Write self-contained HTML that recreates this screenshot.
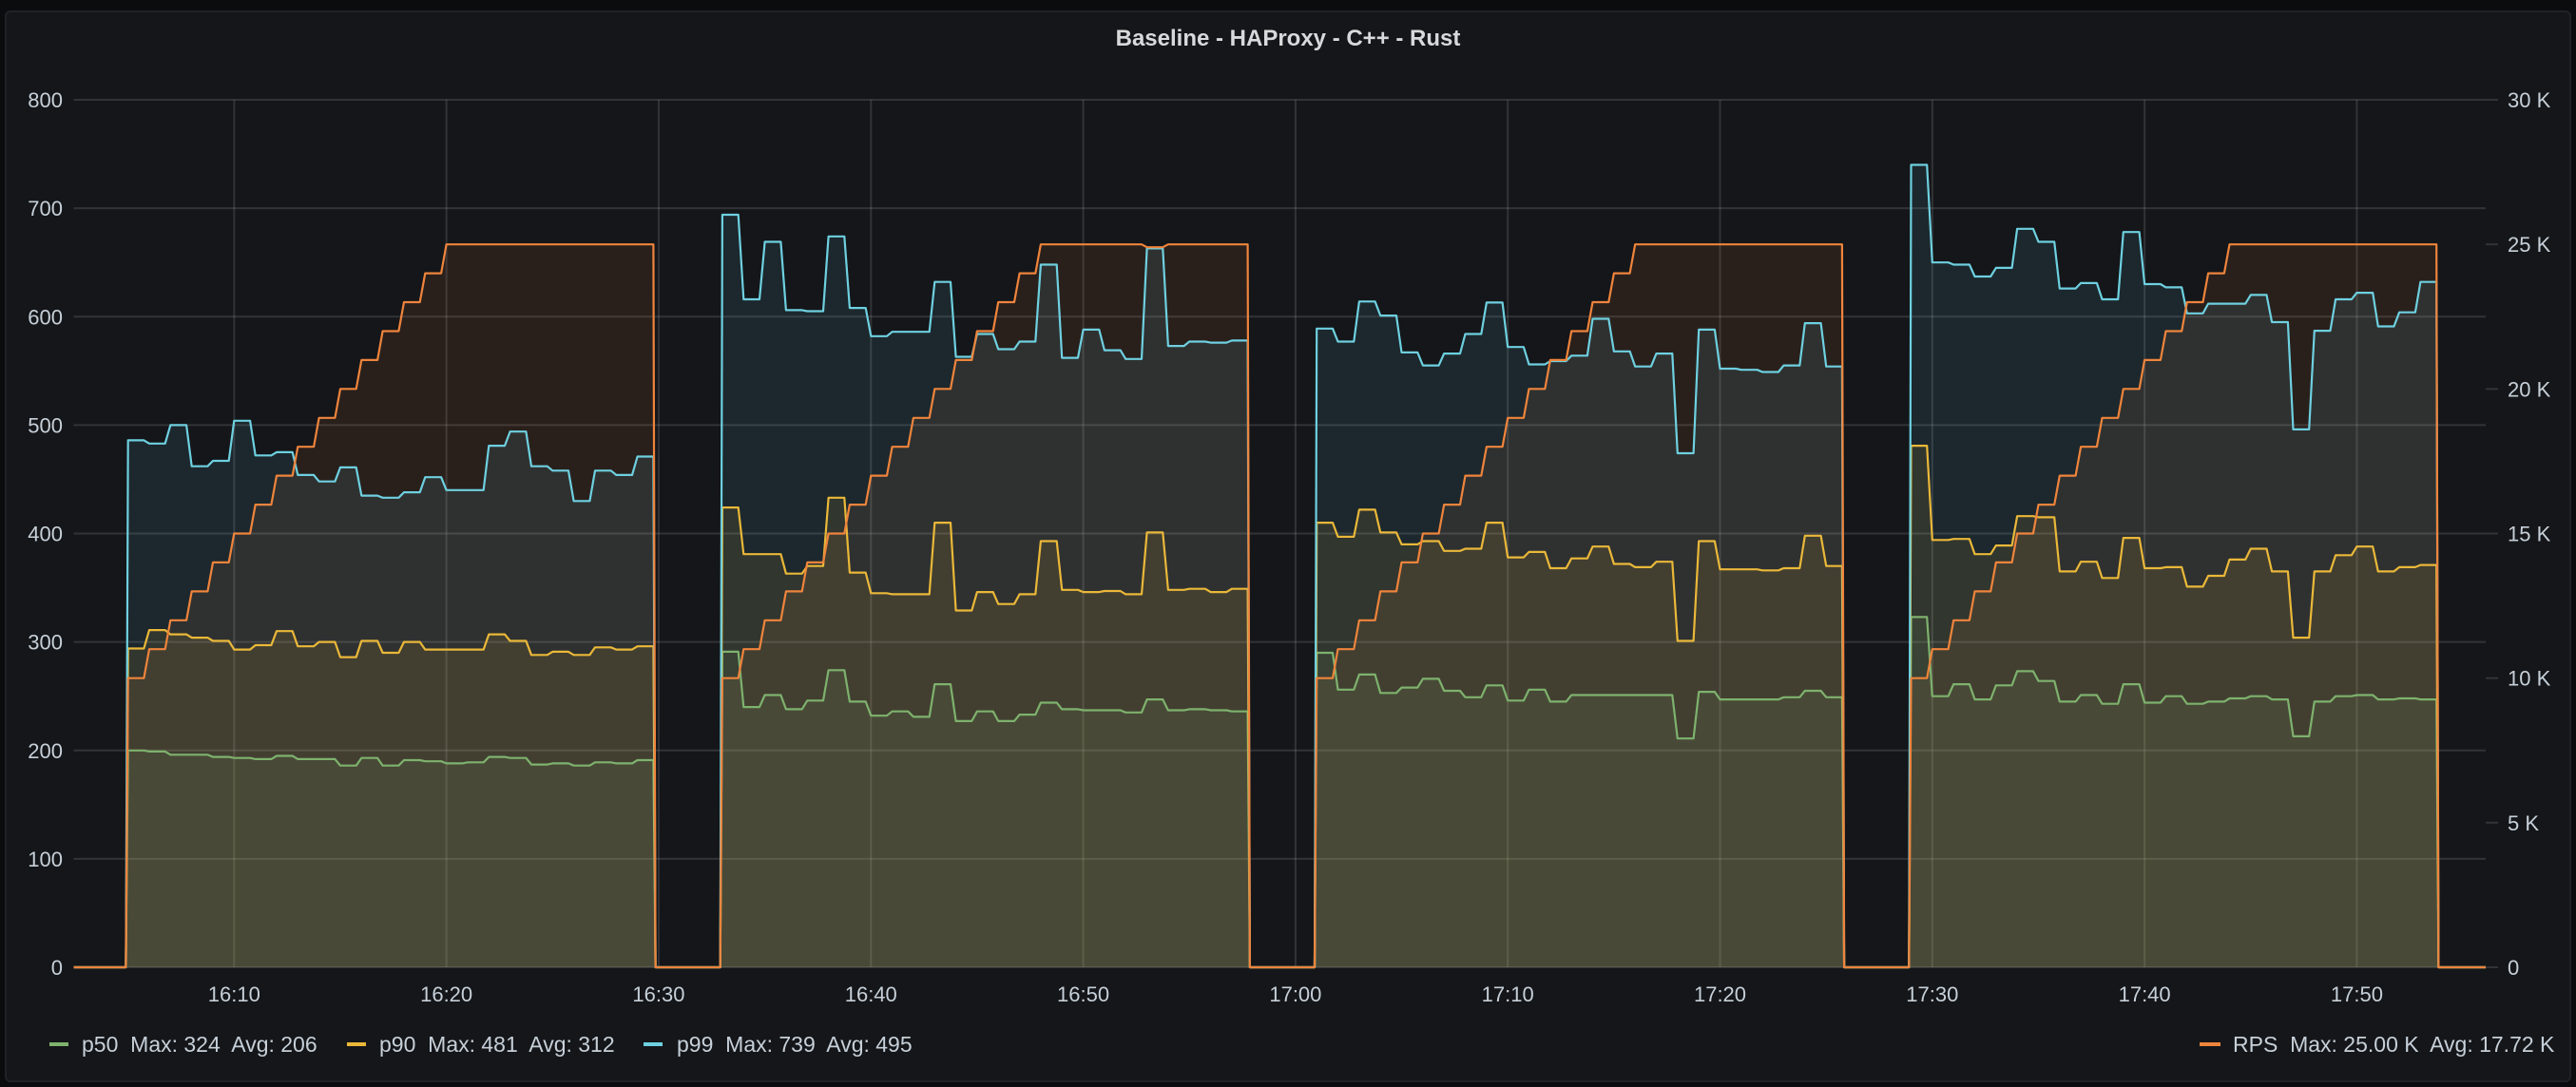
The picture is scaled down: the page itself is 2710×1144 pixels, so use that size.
<!DOCTYPE html>
<html><head><meta charset="utf-8"><style>
html,body{margin:0;padding:0;background:#0b0c0e;}
body{width:2710px;height:1144px;overflow:hidden;font-family:"Liberation Sans",sans-serif;}
svg{display:block}
.leg text{white-space:pre}
</style></head><body>
<svg id="chart" width="2710" height="1144" xmlns="http://www.w3.org/2000/svg">
<rect x="6" y="12" width="2698" height="1126" rx="5" fill="#141619" stroke="#202226" stroke-width="2"/>
<text x="1355" y="48" text-anchor="middle" font-size="24" font-weight="bold" fill="#d8d9da">Baseline - HAProxy - C++ - Rust</text>
<g id="grid"></g>
<g id="fills"></g>
<g id="lines"></g>
<g id="axes"></g>
<g class="leg" font-size="23" fill="#c7d0d9" xml:space="preserve">
 <g><rect x="52" y="1097" width="20" height="4" fill="#7eb26d"/><text x="86" y="1107">p50  Max: 324  Avg: 206</text></g>
 <g><rect x="365" y="1097" width="20" height="4" fill="#eab839"/><text x="399" y="1107">p90  Max: 481  Avg: 312</text></g>
 <g><rect x="677" y="1097" width="20" height="4" fill="#6ed0e0"/><text x="712" y="1107">p99  Max: 739  Avg: 495</text></g>
 <g><rect x="2314" y="1097" width="22" height="4" fill="#ef843c"/><text x="2349" y="1107">RPS  Max: 25.00 K  Avg: 17.72 K</text></g>
</g>
</svg>
<script>
const blockStart = [5.0, 33.0, 61.0, 89.0];
const p50 = [
 [200,199,196,196,194,193,192,195,192,192,186,193,186,191,190,188,189,194,193,187,188,186,189,188,191],
 [291,240,251,238,246,274,245,232,236,231,261,227,236,227,233,244,238,237,237,235,247,237,238,237,236],
 [290,256,270,253,258,266,255,249,260,246,256,245,251,251,251,251,251,211,254,247,247,247,249,255,249],
 [323,250,261,247,260,273,264,245,251,243,261,244,250,243,245,248,250,247,213,245,250,251,247,248,247]];
const p90 = [
 [294,311,307,304,301,293,297,310,296,300,286,301,290,300,293,293,293,307,301,288,291,288,295,293,296],
 [424,381,381,363,370,433,364,345,344,344,410,329,346,335,344,393,348,346,347,344,401,348,349,346,349],
 [410,397,422,401,390,393,384,386,410,378,383,368,377,388,372,369,374,301,393,367,367,366,368,398,370],
 [481,394,395,381,389,416,415,365,374,359,396,368,369,351,361,376,386,365,304,365,380,388,365,369,371]];
const p99 = [
 [486,483,500,462,467,504,472,475,454,448,461,435,433,438,452,440,440,481,494,462,458,430,458,454,471],
 [694,616,669,606,605,674,608,582,586,586,632,563,584,570,577,648,562,588,569,561,663,573,577,576,578],
 [589,577,614,601,567,555,566,584,613,572,556,559,564,598,568,554,566,474,588,552,551,549,555,594,554],
 [740,650,648,637,645,681,669,626,631,616,678,630,627,603,612,612,620,595,496,587,616,622,591,604,632]];
const rps = [
 [10,11,12,13,14,15,16,17,18,19,20,21,22,23,24,25,25,25,25,25,25,25,25,25,25],
 [10,11,12,13,14,15,16,17,18,19,20,21,22,23,24,25,25,25,25,25,24.9,25,25,25,25],
 [10,11,12,13,14,15,16,17,18,19,20,21,22,23,24,25,25,25,25,25,25,25,25,25,25],
 [10,11,12,13,14,15,16,17,18,19,20,21,22,23,24,25,25,25,25,25,25,25,25,25,25]];
const leftTicks = [0,100,200,300,400,500,600,700,800];
const rightTicks = [0,5,10,15,20,25,30];
const rightTickLabels = ["0","5 K","10 K","15 K","20 K","25 K","30 K"];
const timeTicks = [10,20,30,40,50,60,70,80,90,100,110];
const timeTickLabels = ["16:10","16:20","16:30","16:40","16:50","17:00","17:10","17:20","17:30","17:40","17:50"];

const NS="http://www.w3.org/2000/svg";
const X0=77.5,X1=2615,Y0=1018,Y1=105,T0=2.44,T1=116.07;
const xs=t=>X0+(t-T0)/(T1-T0)*(X1-X0);
const yl=v=>Y0-v/800*(Y0-Y1);
const yr=v=>Y0-v/30*(Y0-Y1);
function mk(tag,attrs,parent){const e=document.createElementNS(NS,tag);for(const k in attrs)e.setAttribute(k,attrs[k]);parent.appendChild(e);return e;}
const grid=document.getElementById('grid'),axes=document.getElementById('axes');
leftTicks.forEach(v=>{
 const l=mk('line',{x1:X0,x2:X1,y1:yl(v),y2:yl(v),stroke:'rgba(204,204,220,0.16)','stroke-width':2},grid);
 
 
 const t=mk('text',{x:66,y:yl(v)+8,'text-anchor':'end','font-size':22,fill:'#c7d0d9'},axes);
 t.textContent=v;
 
 
});
rightTicks.forEach((v,i)=>{
 const t=mk('text',{x:2638,y:yr(v)+8,'font-size':22,fill:'#c7d0d9'},axes);
 t.textContent=rightTickLabels[i];
 
 
 const m=mk('line',{x1:X1,x2:X1+13,y1:yr(v),y2:yr(v),stroke:'rgba(204,204,220,0.16)','stroke-width':2},grid);
 
 
});
timeTicks.forEach((v,i)=>{
 const l=mk('line',{x1:xs(v),x2:xs(v),y1:Y1,y2:Y0,stroke:'rgba(204,204,220,0.16)','stroke-width':2},grid);
 
 
 const t=mk('text',{x:xs(v),y:1054,'text-anchor':'middle','font-size':22,fill:'#c7d0d9'},axes);
 t.textContent=timeTickLabels[i];
 
 
});
function buildPts(data,scale){
 const pts=[[T0,0]];
 data.forEach((blk,b)=>{
  const s=blockStart[b];
  pts.push([s-0.1,0]);
  blk.forEach((v,i)=>{pts.push([s+i,v]);pts.push([s+i+0.75,v]);});
  const e=s+blk.length-1+0.75;
  pts.push([e+0.1,0]);
 });
 pts.push([T1,0]);
 return pts.map(p=>[xs(p[0]),scale(p[1])]);
}
const series=[
 {name:'rps',data:rps,scale:yr,color:'#ef843c'},
 {name:'p99',data:p99,scale:yl,color:'#6ed0e0'},
 {name:'p90',data:p90,scale:yl,color:'#eab839'},
 {name:'p50',data:p50,scale:yl,color:'#7eb26d'}];
const fills=document.getElementById('fills'),lines=document.getElementById('lines');
series.forEach(s=>{
 const pts=buildPts(s.data,s.scale);
 const d='M'+pts.map(p=>p[0].toFixed(1)+','+p[1].toFixed(1)).join('L');
 const f=mk('path',{d:d+'L'+X1+','+Y0+'L'+X0+','+Y0+'Z',fill:s.color,'fill-opacity':0.1},fills);
 
 
});
series.slice().reverse().forEach(s=>{
 const pts=buildPts(s.data,s.scale);
 const d='M'+pts.map(p=>p[0].toFixed(1)+','+p[1].toFixed(1)).join('L');
 const l=mk('path',{d:d,fill:'none',stroke:s.color,'stroke-width':2.2,'stroke-linejoin':'round'},lines);
 
 
});
</script>
</body></html>
